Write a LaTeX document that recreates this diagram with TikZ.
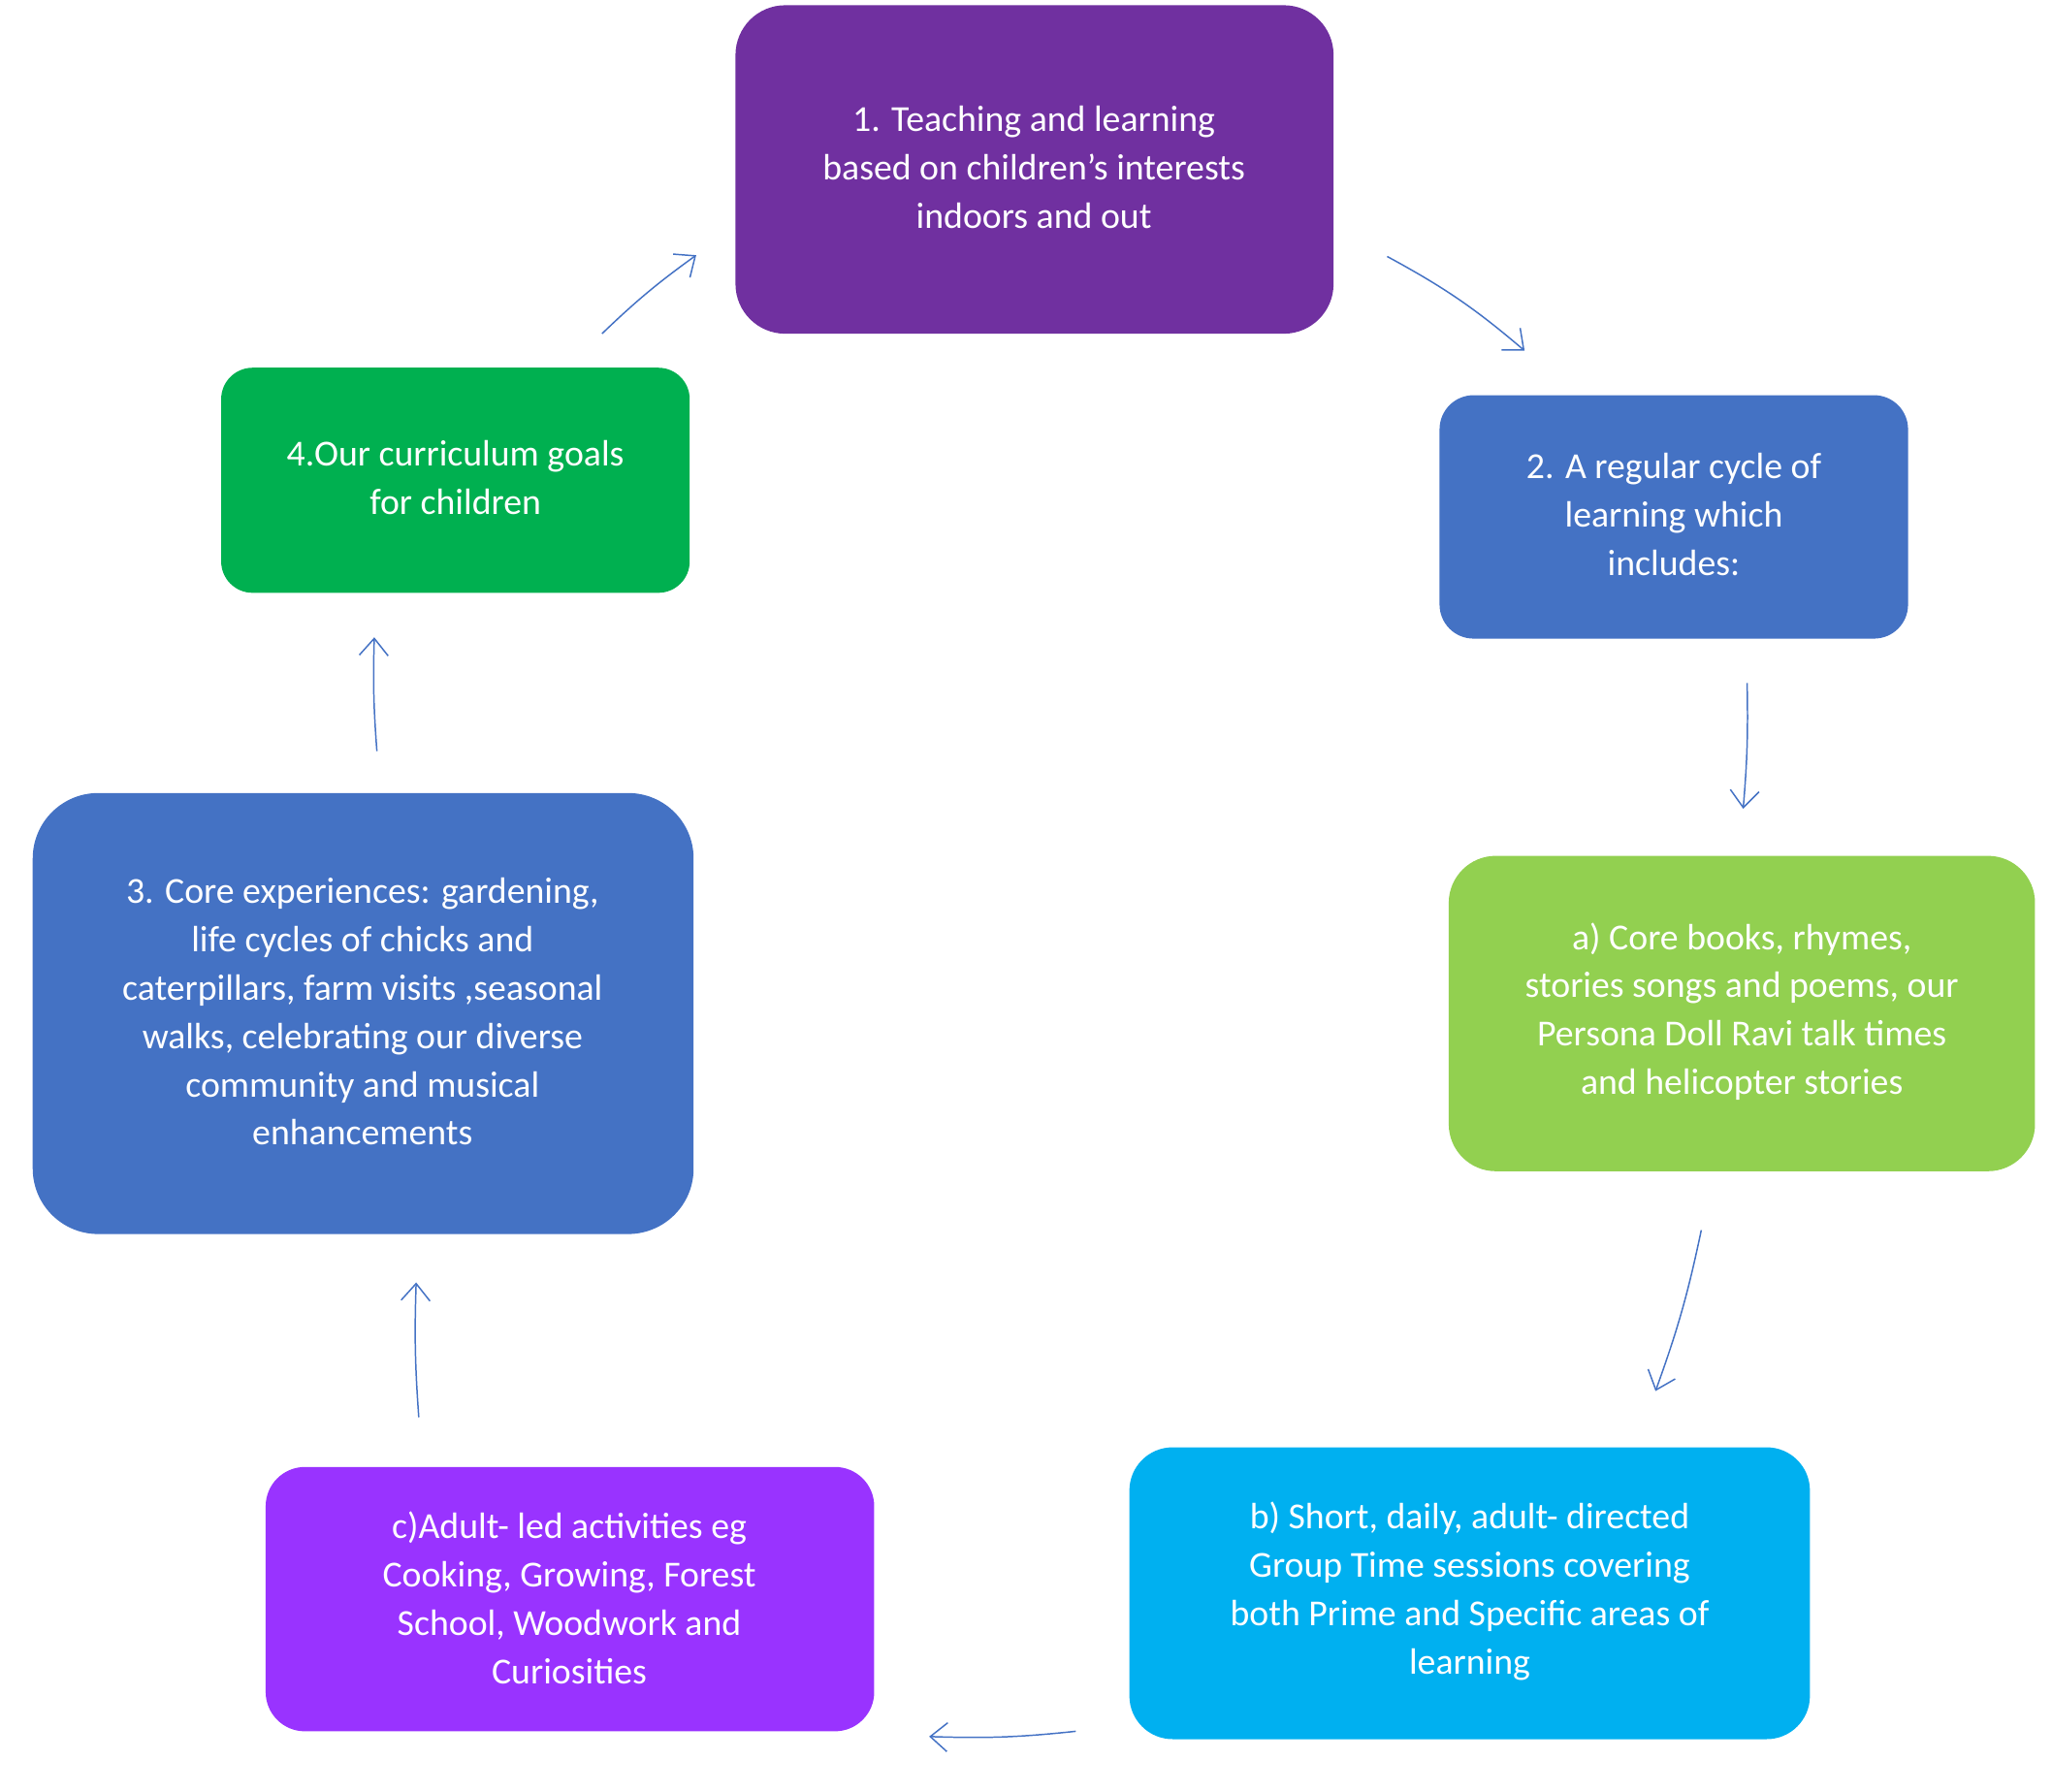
\documentclass[tikz,border=0pt]{standalone}
\usepackage{fontspec}
\setmainfont{Carlito}
\usetikzlibrary{arrows.meta}
\definecolor{c1}{HTML}{7030A0}
\definecolor{c2}{HTML}{4472C4}
\definecolor{ca}{HTML}{92D050}
\definecolor{cb}{HTML}{00B0F0}
\definecolor{cc}{HTML}{9933FF}
\definecolor{c4}{HTML}{00B050}
\begin{document}
\begin{tikzpicture}[x=1pt,y=-1pt,
  box/.style={rounded corners=30pt,draw=none,text=white,align=center,
    font=\fontsize{28}{37}\selectfont},
  arr/.style={draw=c2,line width=1.1pt,-{Straight Barb[length=13pt,width=22pt,line width=1.1pt]}}]
\useasboundingbox (0,0) rectangle (1568,1369);
\fill[c1,rounded corners=38pt] (562,4) rectangle (1019,255);
\node[box] (n1) at (790,128) {1. Teaching and learning\\based on children's interests\\indoors and out};
\fill[c2,rounded corners=26pt] (1100,302) rectangle (1458,488);
\node[box] (n2) at (1279,393) {2. A regular cycle of\\learning which\\includes:};
\fill[ca,rounded corners=36pt] (1107,654) rectangle (1555,895);
\node[box] (na) at (1331,773) {a) Core books, rhymes,\\stories songs and poems, our\\Persona Doll Ravi talk times\\and helicopter stories};
\fill[cb,rounded corners=33pt] (863,1106) rectangle (1383,1329);
\node[box] (nb) at (1123,1216) {b) Short, daily, adult- directed\\Group Time sessions covering\\both Prime and Specific areas of\\learning};
\fill[cc,rounded corners=30pt] (203,1121) rectangle (668,1323);
\node[box] (nc) at (435,1221) {c)Adult- led activities eg\\Cooking, Growing, Forest\\School, Woodwork and\\Curiosities};
\fill[c2,rounded corners=50pt] (25,606) rectangle (530,943);
\node[box] (n3) at (277,773) {3. Core experiences: gardening,\\life cycles of chicks and\\caterpillars, farm visits ,seasonal\\walks, celebrating our diverse\\community and musical\\enhancements};
\fill[c4,rounded corners=24pt] (169,281) rectangle (527,453);
\node[box] (n4) at (348,365) {4.Our curriculum goals\\for children};
\coordinate (s1) at (1060,196); \coordinate (e1) at (1165,268);
\coordinate (s2) at (1335,522); \coordinate (e2) at (1332,618);
\coordinate (s3) at (1300,940); \coordinate (e3) at (1265,1063);
\coordinate (s4) at (822,1323); \coordinate (e4) at (710,1327);
\coordinate (s5) at (320,1083); \coordinate (e5) at (318,980);
\coordinate (s6) at (288,574); \coordinate (e6) at (286,487);
\coordinate (s7) at (460,255); \coordinate (e7) at (532,195);
\draw[arr] (s1) to[bend left=6] (e1);
\draw[arr] (s2) to[bend left=3] (e2);
\draw[arr] (s3) to[bend left=4] (e3);
\draw[arr] (s4) to[bend left=4] (e4);
\draw[arr] (s5) to[bend left=3] (e5);
\draw[arr] (s6) to[bend left=3] (e6);
\draw[arr] (s7) to[bend left=4] (e7);
\end{tikzpicture}
\end{document}
